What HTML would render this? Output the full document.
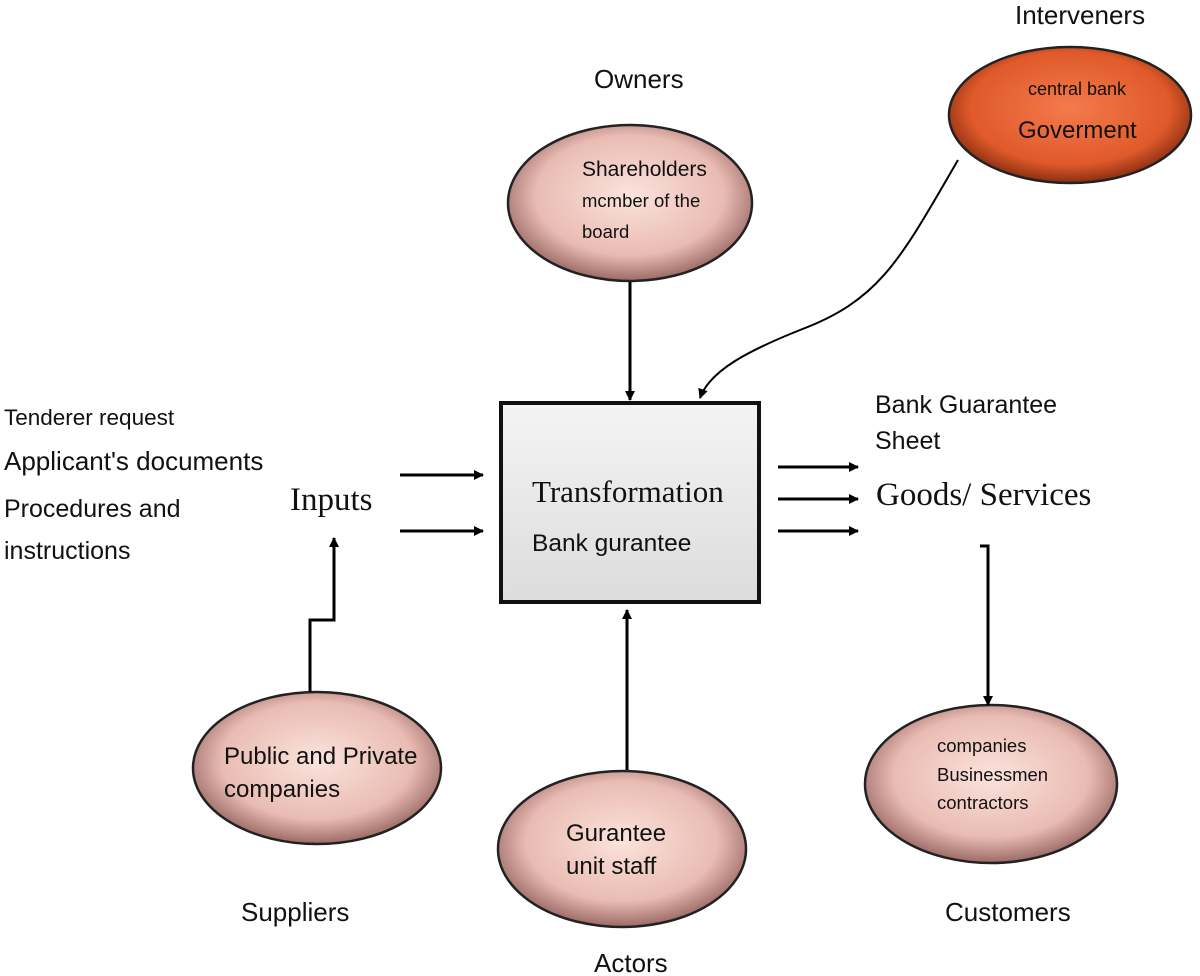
<!DOCTYPE html>
<html><head><style>
body{margin:0;background:#fff;}
</style></head><body>
<svg width="1200" height="976" viewBox="0 0 1200 976" xmlns="http://www.w3.org/2000/svg" style="display:block">
<defs>
<radialGradient id="pk" cx="50%" cy="45%" r="55%">
<stop offset="0" stop-color="#fbe3dc"/><stop offset="0.7" stop-color="#e9bcb3"/><stop offset="1" stop-color="#9c6a66"/></radialGradient>
<radialGradient id="or" cx="50%" cy="45%" r="55%">
<stop offset="0" stop-color="#f47a4c"/><stop offset="0.75" stop-color="#e05a2a"/><stop offset="1" stop-color="#8a2e10"/></radialGradient>
<linearGradient id="bx" x1="0" y1="0" x2="0" y2="1"><stop offset="0" stop-color="#f4f4f4"/><stop offset="1" stop-color="#dcdcdc"/></linearGradient>
<marker id="a" markerWidth="10" markerHeight="10" refX="9" refY="5" orient="auto" markerUnits="userSpaceOnUse"><path d="M0,0 L10,5 L0,10 z" fill="#000"/></marker>
</defs>
<g stroke="#222" stroke-width="2.5">
<ellipse cx="630" cy="203" rx="122" ry="78" fill="url(#pk)"/>
<ellipse cx="1070" cy="115" rx="121" ry="68" fill="url(#or)"/>
<ellipse cx="317" cy="768" rx="124" ry="76" fill="url(#pk)"/>
<ellipse cx="622" cy="849" rx="124" ry="78" fill="url(#pk)"/>
<ellipse cx="991" cy="784" rx="126" ry="79" fill="url(#pk)"/>
</g>
<rect x="501" y="403" width="258" height="199" fill="url(#bx)" stroke="#111" stroke-width="4"/>
<g stroke="#000" stroke-width="3" fill="none">
<line x1="630" y1="282" x2="630" y2="400" marker-end="url(#a)"/>
<path d="M958,160 C900,260 880,300 800,330 C750,350 710,370 700,398" marker-end="url(#a)" stroke-width="2"/>
<line x1="400" y1="475" x2="483" y2="475" marker-end="url(#a)"/>
<line x1="400" y1="531" x2="483" y2="531" marker-end="url(#a)"/>
<line x1="778" y1="467" x2="858" y2="467" marker-end="url(#a)"/>
<line x1="778" y1="499" x2="858" y2="499" marker-end="url(#a)"/>
<line x1="778" y1="531" x2="858" y2="531" marker-end="url(#a)"/>
<line x1="627" y1="770" x2="627" y2="610" marker-end="url(#a)"/>
<path d="M310,692 L310,620 L334,620 L334,538" marker-end="url(#a)"/>
<path d="M980,546 L988,546 L988,705" marker-end="url(#a)"/>
</g>
<g fill="#111" style="font-family:'Liberation Sans',sans-serif">
<text x="594" y="88" font-size="26">Owners</text>
<text x="1015" y="24" font-size="26">Interveners</text>
<text x="241" y="921" font-size="26">Suppliers</text>
<text x="594" y="972" font-size="26">Actors</text>
<text x="945" y="921" font-size="26">Customers</text>
<text x="4" y="425" font-size="22.5">Tenderer request</text>
<text x="4" y="470" font-size="26">Applicant's documents</text>
<text x="4" y="517" font-size="25">Procedures and</text>
<text x="4" y="559" font-size="25">instructions</text>
<text x="875" y="413" font-size="25">Bank Guarantee</text>
<text x="875" y="449" font-size="25">Sheet</text>
<text x="532" y="551" font-size="24.5">Bank gurantee</text>
<text x="582" y="176" font-size="21">Shareholders</text>
<text x="582" y="207" font-size="18.5">mcmber of the</text>
<text x="582" y="238" font-size="18.5">board</text>
<text x="1028" y="95" font-size="18">central bank</text>
<text x="1018" y="138" font-size="24">Goverment</text>
<text x="224" y="764" font-size="24">Public and Private</text>
<text x="224" y="797" font-size="24">companies</text>
<text x="566" y="841" font-size="24">Gurantee</text>
<text x="566" y="874" font-size="24">unit staff</text>
<text x="937" y="752" font-size="18.5">companies</text>
<text x="937" y="781" font-size="18.5">Businessmen</text>
<text x="937" y="809" font-size="18.5">contractors</text>
</g>
<g fill="#111" style="font-family:'Liberation Serif',serif">
<text x="290" y="510" font-size="33">Inputs</text>
<text x="876" y="505" font-size="33">Goods/ Services</text>
<text x="532" y="502" font-size="31">Transformation</text>
</g>
</svg>
</body></html>
